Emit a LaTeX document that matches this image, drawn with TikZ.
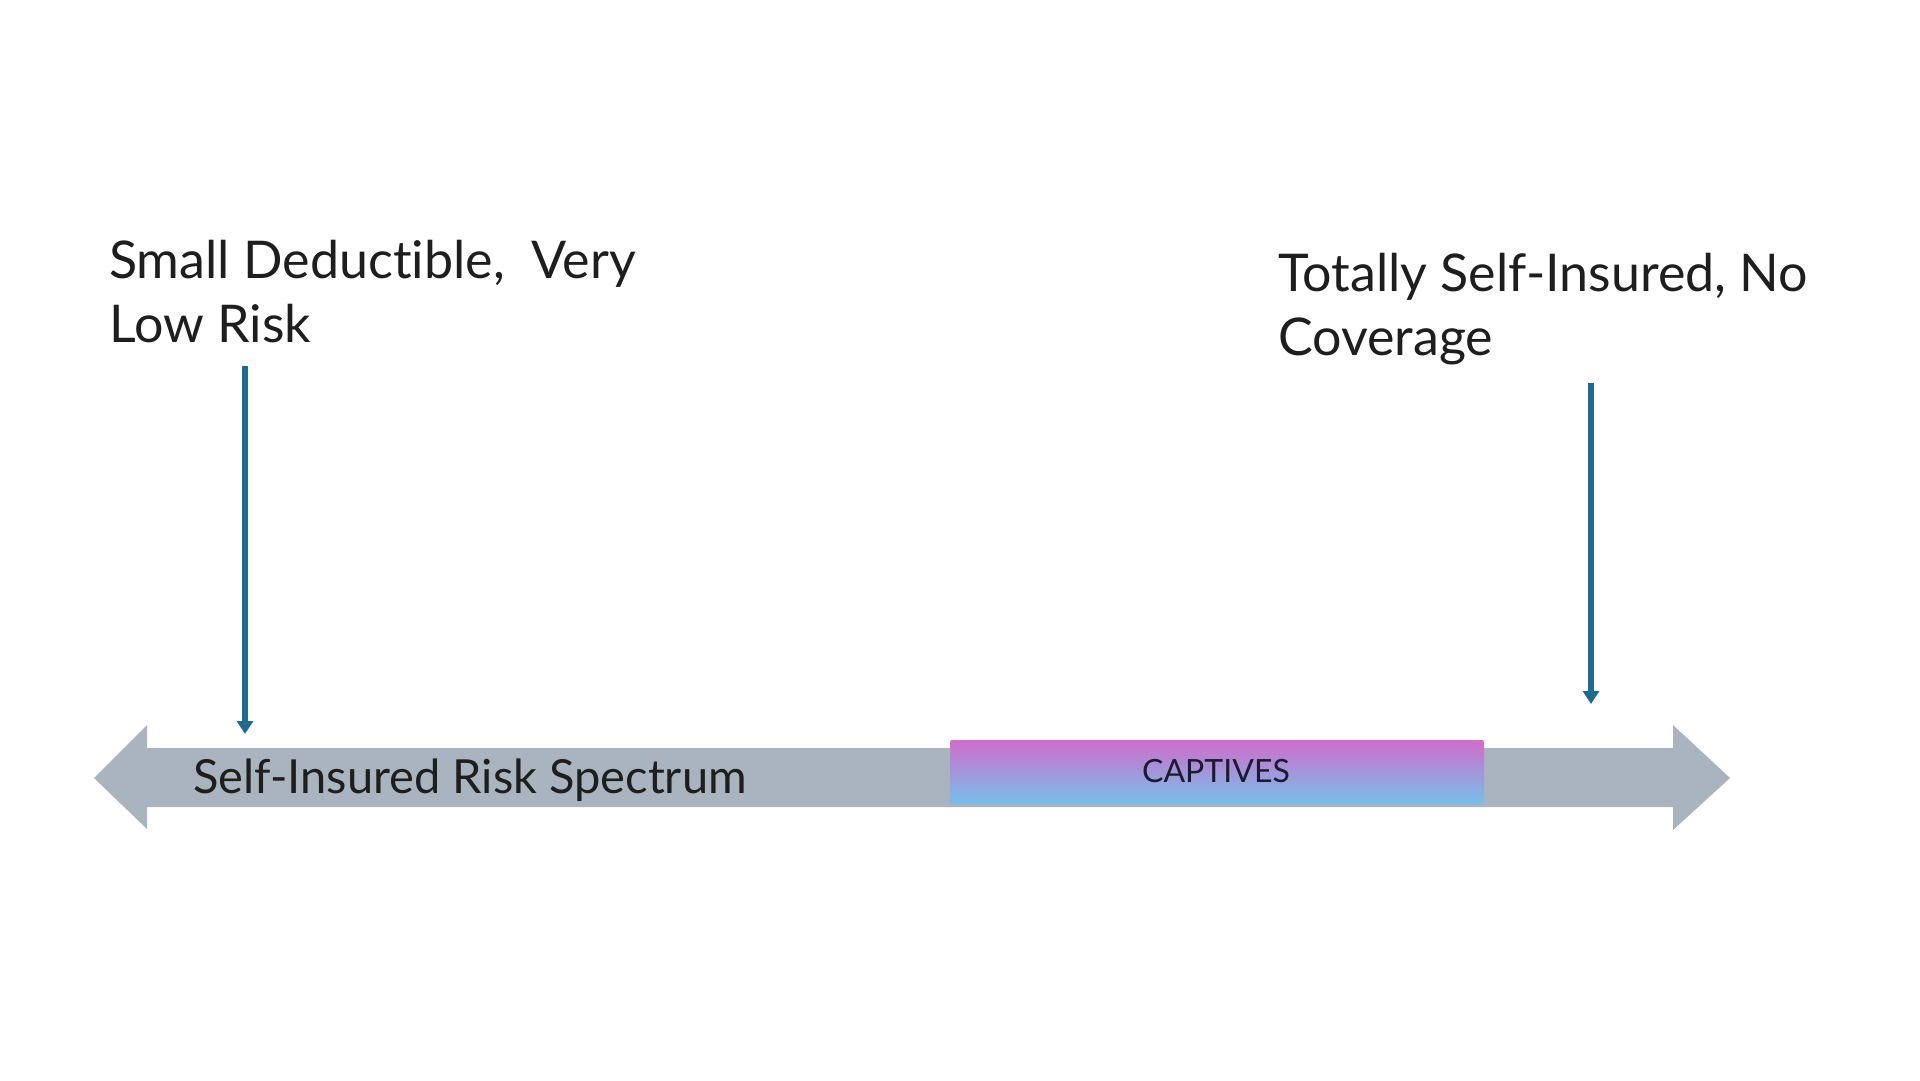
\documentclass[tikz,border=0pt]{standalone}
\usepackage{fontspec}
\setmainfont{Lato}[Ligatures={NoCommon}]
\usetikzlibrary{arrows.meta}
\definecolor{shaftgray}{HTML}{A9B4BF}
\definecolor{pointer}{HTML}{1F6A90}
\definecolor{captop}{HTML}{D06CCB}
\definecolor{capbot}{HTML}{76C0EA}
\definecolor{captext}{HTML}{1A1A30}
\definecolor{labeltext}{HTML}{1E1E1E}
\tikzset{
  bigtext/.style={inner sep=0pt, anchor=base west, align=left, text=labeltext,
    font=\fontsize{52}{64}\selectfont},
  pointerline/.style={draw=pointer, line width=6pt,
    -{Triangle[length=13pt,width=16pt]}},
}
\begin{document}
\begin{tikzpicture}[x=1pt,y=-1pt]
\useasboundingbox (0,0) rectangle (1920,1080);
\fill[white] (0,0) rectangle (1920,1080);
% spectrum double arrow
\fill[shaftgray] (94,778) -- (147,725) -- (147,748) -- (1673,748) -- (1673,725)
  -- (1730,778) -- (1673,830) -- (1673,807) -- (147,807) -- (147,829) -- cycle;
% captives band
\shade[top color=captop, bottom color=capbot, rounded corners=2pt]
  (950,740) rectangle (1484,804);
\node[inner sep=0pt, text=captext, font=\fontsize{32}{38}\selectfont] (cap) at (1216,771) {CAPTIVES};
\node[inner sep=0pt, anchor=base west, text=labeltext, font=\fontsize{47}{56}\selectfont] (spec) at (193,793) {Self-Insured Risk Spectrum};
% labels (base anchor sits on the last line)
\node[bigtext] (left) at (109,342) {Small Deductible,\ \ Very\\Low Risk};
\node[bigtext] (right) at (1278,355) {Totally Self-Insured, No\\Coverage};
% pointers
\coordinate (lt) at (245,366);
\coordinate (lb) at (245,734);
\coordinate (rt) at (1591,383);
\coordinate (rb) at (1591,704);
\draw[pointerline] (lt) -- (lb);
\draw[pointerline] (rt) -- (rb);
\end{tikzpicture}
\end{document}
